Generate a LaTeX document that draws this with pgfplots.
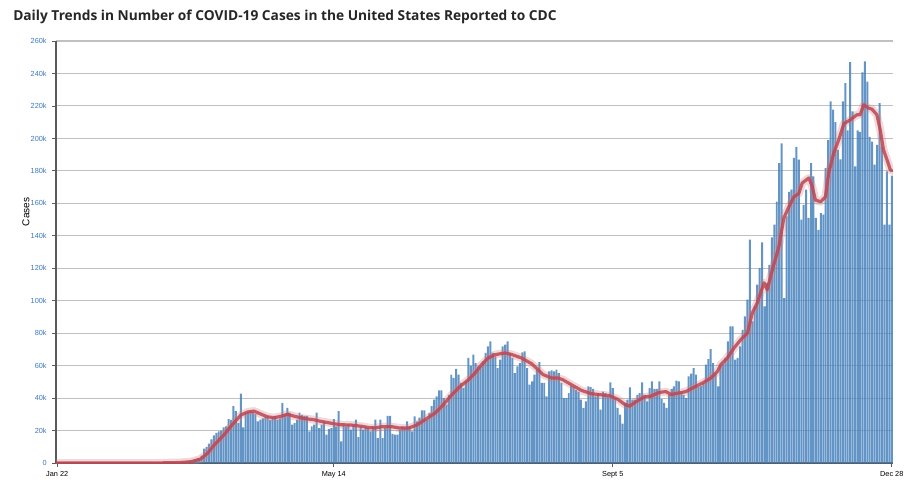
\documentclass[border=0pt]{standalone}
\usepackage{pgfplots}
\pgfplotsset{compat=1.18}
\usepackage{pgfplotstable}
\usepackage{fontspec}
\setmainfont{Liberation Sans}
\newfontfamily\titlefont{Open Sans}

\definecolor{barblue}{RGB}{70,130,188}
\definecolor{tickblue}{RGB}{60,120,190}
\definecolor{avgred}{RGB}{190,70,80}
\definecolor{gridgray}{RGB}{192,192,192}
\definecolor{axisgray}{RGB}{90,90,90}

% 7-day moving average of daily cases (thousands), by day since Jan 22
\pgfplotstableread{
day avg
0 0
40 0
50 0.3
54.6 0.8
58.6 2.5
61.4 6
64.1 11
68.2 17.5
71.5 23.6
75 29.5
77.7 31.4
80.4 32
83.1 30.2
85.8 28.5
88.5 27.9
91.2 28.7
94 30
96.7 28.9
99.4 27.9
102 27.2
104.8 26.7
107.5 25.7
110.2 25
113 24.2
115.7 23.6
120 23.4
124.5 22.6
127.2 21.8
130 21.6
132.7 22.4
136.7 22.4
139.5 21.6
143.5 21.5
146.9 23.4
150.3 26.7
154.4 30.8
157.8 36
161.2 42
164.6 47.2
168 51.3
170.7 55.4
173.4 60.6
176.1 64.7
178.8 66.7
182.9 67.8
185.6 66.9
189.7 64.7
193.8 61.2
196.5 57.5
198.5 54.5
201.9 52.4
204.6 52.4
206.6 51.3
210 48.3
214.1 44.8
218.2 42.7
222.3 42
225.7 41.5
229.1 39.2
231.8 36.2
233.8 35
236.5 37.8
239.9 40.7
242.6 41.2
246 43.5
248.7 44
250.8 42.2
253.5 43
256.9 44
260.3 46.8
263.7 49.3
267.1 52.4
269.8 56.5
271.1 60.6
273.8 64.7
276.5 70.8
279.3 76
282 80
284 92.4
286 98.6
288.8 111
290.1 106.8
292.2 119
294.9 133.5
296.9 151
299 158
301 164
303 166
304.4 172.5
307.1 175.6
308.5 170.4
309.8 162
311.9 161
313.9 164
315.2 178.6
317.3 191
319.3 199
321.4 209
324.1 211.5
326.8 214.6
328.1 214.6
329.5 220.7
331.5 218.7
332.9 218
334.9 214.6
336.3 205
337.6 193
339 187
340.4 180.7
341 180
}\avgtable

\begin{document}
\begin{tikzpicture}[x=1pt,y=1pt]
\path[use as bounding box] (0,0) rectangle (687,365.25);
\node[anchor=base west, inner sep=0pt,
      font=\titlefont\bfseries\fontsize{10.3}{12}\selectfont, text=black!85]
  at (9.75,350.25) {Daily Trends in Number of COVID-19 Cases in the United States Reported to CDC};
\begin{axis}[
  at={(42pt,18pt)}, anchor=south west, scale only axis,
  width=627.75pt, height=316.5pt,
  xmin=-0.5, xmax=341.5, ymin=0, ymax=260,
  axis x line*=bottom, axis y line*=left,
  axis line style={-, draw=axisgray, line width=0.8pt},
  xtick={0,113,227,341},
  xticklabels={Jan 22,May 14,Sept 5,Dec 28},
  ytick={0,20,...,260},
  yticklabels={0,20k,40k,60k,80k,100k,120k,140k,160k,180k,200k,220k,240k,260k},
  tick align=outside, major tick length=3pt,
  tick style={draw=axisgray, line width=0.6pt},
  yticklabel style={font=\fontsize{5.5}{6}\selectfont, text=tickblue, xshift=-0.5pt},
  xticklabel style={font=\fontsize{5.5}{6}\selectfont, text=black},
  ymajorgrids, grid style={draw=gridgray, line width=0.85pt},
  ylabel={Cases},
  every axis y label/.style={at={(axis description cs:-0.036,0.595)}, rotate=90, anchor=center,
    font=\fontsize{7.5}{8}\selectfont},
]
\addplot[ybar, bar width=0.8, fill=barblue, fill opacity=0.85, draw=none] coordinates {
(0,0) (1,0) (2,0) (3,0) (4,0) (5,0) (6,0) (7,0) (8,0) (9,0)
(10,0) (11,0) (12,0) (13,0) (14,0) (15,0) (16,0) (17,0) (18,0) (19,0)
(20,0) (21,0) (22,0) (23,0) (24,0) (25,0) (26,0) (27,0) (28,0) (29,0)
(30,0) (31,0) (32,0) (33,0) (34,0) (35,0) (36,0) (37,0) (38,0) (39,0)
(40,0.02) (41,0.03) (42,0.05) (43,0.07) (44,0.1) (45,0.15) (46,0.2) (47,0.3) (48,0.4) (49,0.5)
(50,0.6) (51,0.8) (52,0.9) (53,1.0) (54,1.2) (55,1.4) (56,1.8) (57,2.5) (58,3.0) (59,4.5)
(60,8.8) (61,10) (62,12) (63,14.5) (64,17) (65,18.5) (66,19.5) (67,20) (68,22) (69,22.6)
(70,27) (71,26.5) (72,35) (73,32) (74,24.5) (75,42.7) (76,22) (77,31) (78,31.5) (79,32)
(80,31.5) (81,30.5) (82,25.7) (83,26.7) (84,27.5) (85,28.5) (86,28.7) (87,26.5) (88,28) (89,29)
(90,26.7) (91,27.5) (92,37) (93,30) (94,34) (95,31) (96,23.6) (97,24.6) (98,26.7) (99,31)
(100,29.5) (101,29) (102,29) (103,19.5) (104,22.6) (105,23.6) (106,31) (107,21.5) (108,23.6) (109,25.5)
(110,17.5) (111,21) (112,21.5) (113,27) (114,22.6) (115,32) (116,13.3) (117,23.6) (118,22.6) (119,23.6)
(120,20.5) (121,23.6) (122,26.7) (123,16) (124,22.6) (125,20.5) (126,22.6) (127,21.5) (128,19.5) (129,22.6)
(130,26.7) (131,15.4) (132,26.7) (133,15.4) (134,21.5) (135,29) (136,29) (137,18) (138,17.5) (139,17.5)
(140,20.5) (141,22.6) (142,21.5) (143,25.7) (144,22.6) (145,19.5) (146,28.7) (147,25.7) (148,28) (149,32.4)
(150,32.4) (151,26.7) (152,30.8) (153,35) (154,39) (155,41) (156,44.8) (157,44.8) (158,40) (159,36)
(160,42) (161,54.4) (162,52.4) (163,58) (164,54.4) (165,49.3) (166,46.2) (167,50.3) (168,64.7) (169,60)
(170,66.7) (171,61.6) (172,59.5) (173,59.5) (174,62.6) (175,67.8) (176,71.9) (177,75) (178,67.8) (179,65.7)
(180,58.5) (181,63.7) (182,71.9) (183,73) (184,75) (185,67.8) (186,64.7) (187,55.4) (188,59.5) (189,61.6)
(190,68.2) (191,68.8) (192,58.5) (193,48.3) (194,50.3) (195,54.4) (196,57.5) (197,62.2) (198,49.3) (199,49.3)
(200,41) (201,56.5) (202,57) (203,56.5) (204,57.5) (205,55.4) (206,49.3) (207,40) (208,40) (209,43)
(210,47.6) (211,46.8) (212,45) (213,44) (214,39) (215,33.9) (216,38) (217,47.2) (218,46.8) (219,45.6)
(220,41) (221,43) (222,32.9) (223,44) (224,43) (225,41) (226,49.7) (227,46.2) (228,40) (229,33.9)
(230,29.8) (231,24.2) (232,37) (233,39) (234,46.6) (235,39) (236,39) (237,42) (238,43) (239,49.7)
(240,42) (241,38) (242,46.2) (243,50.3) (244,45.6) (245,45.6) (246,50.3) (247,39.4) (248,37) (249,33.9)
(250,42) (251,45.6) (252,47.2) (253,50.7) (254,50.3) (255,44) (256,42) (257,40) (258,53.4) (259,55)
(260,58.5) (261,54.4) (262,46.8) (263,47.6) (264,49.3) (265,60.6) (266,64) (267,70.2) (268,61.6) (269,55)
(270,47.2) (271,60.6) (272,61) (273,64.7) (274,75) (275,84.2) (276,84.2) (277,63.7) (278,64.7) (279,71.9)
(280,82) (281,90.3) (282,100.6) (283,137.6) (284,87.3) (285,96.5) (286,109.9) (287,120) (288,136) (289,96.5)
(290,111) (291,122) (292,139) (293,146.8) (294,161) (295,184.8) (296,197) (297,101.6) (298,152) (299,167)
(300,168.4) (301,188) (302,194.7) (303,186.9) (304,150) (305,159) (306,168.4) (307,151) (308,184.8) (309,176.6)
(310,151) (311,143.7) (312,154) (313,153) (314,181.7) (315,199) (316,222.8) (317,217.7) (318,210) (319,193)
(320,187) (321,222.8) (322,234) (323,205) (324,247) (325,216.6) (326,182.7) (327,205) (328,204) (329,240.7)
(330,247.4) (331,235) (332,201) (333,198) (334,183.8) (335,196) (336,221.8) (337,195) (338,146.8) (339,179.7)
(340,146.8) (341,177)
};
% soft halo under the average line
\addplot[draw=avgred!70, line width=6pt, opacity=0.3, line join=round, line cap=round] table[x=day, y=avg] {\avgtable};
\addplot[draw=avgred, line width=2.4pt, opacity=0.85, line join=round, line cap=round] table[x=day, y=avg] {\avgtable};
\end{axis}
\end{tikzpicture}
\end{document}
